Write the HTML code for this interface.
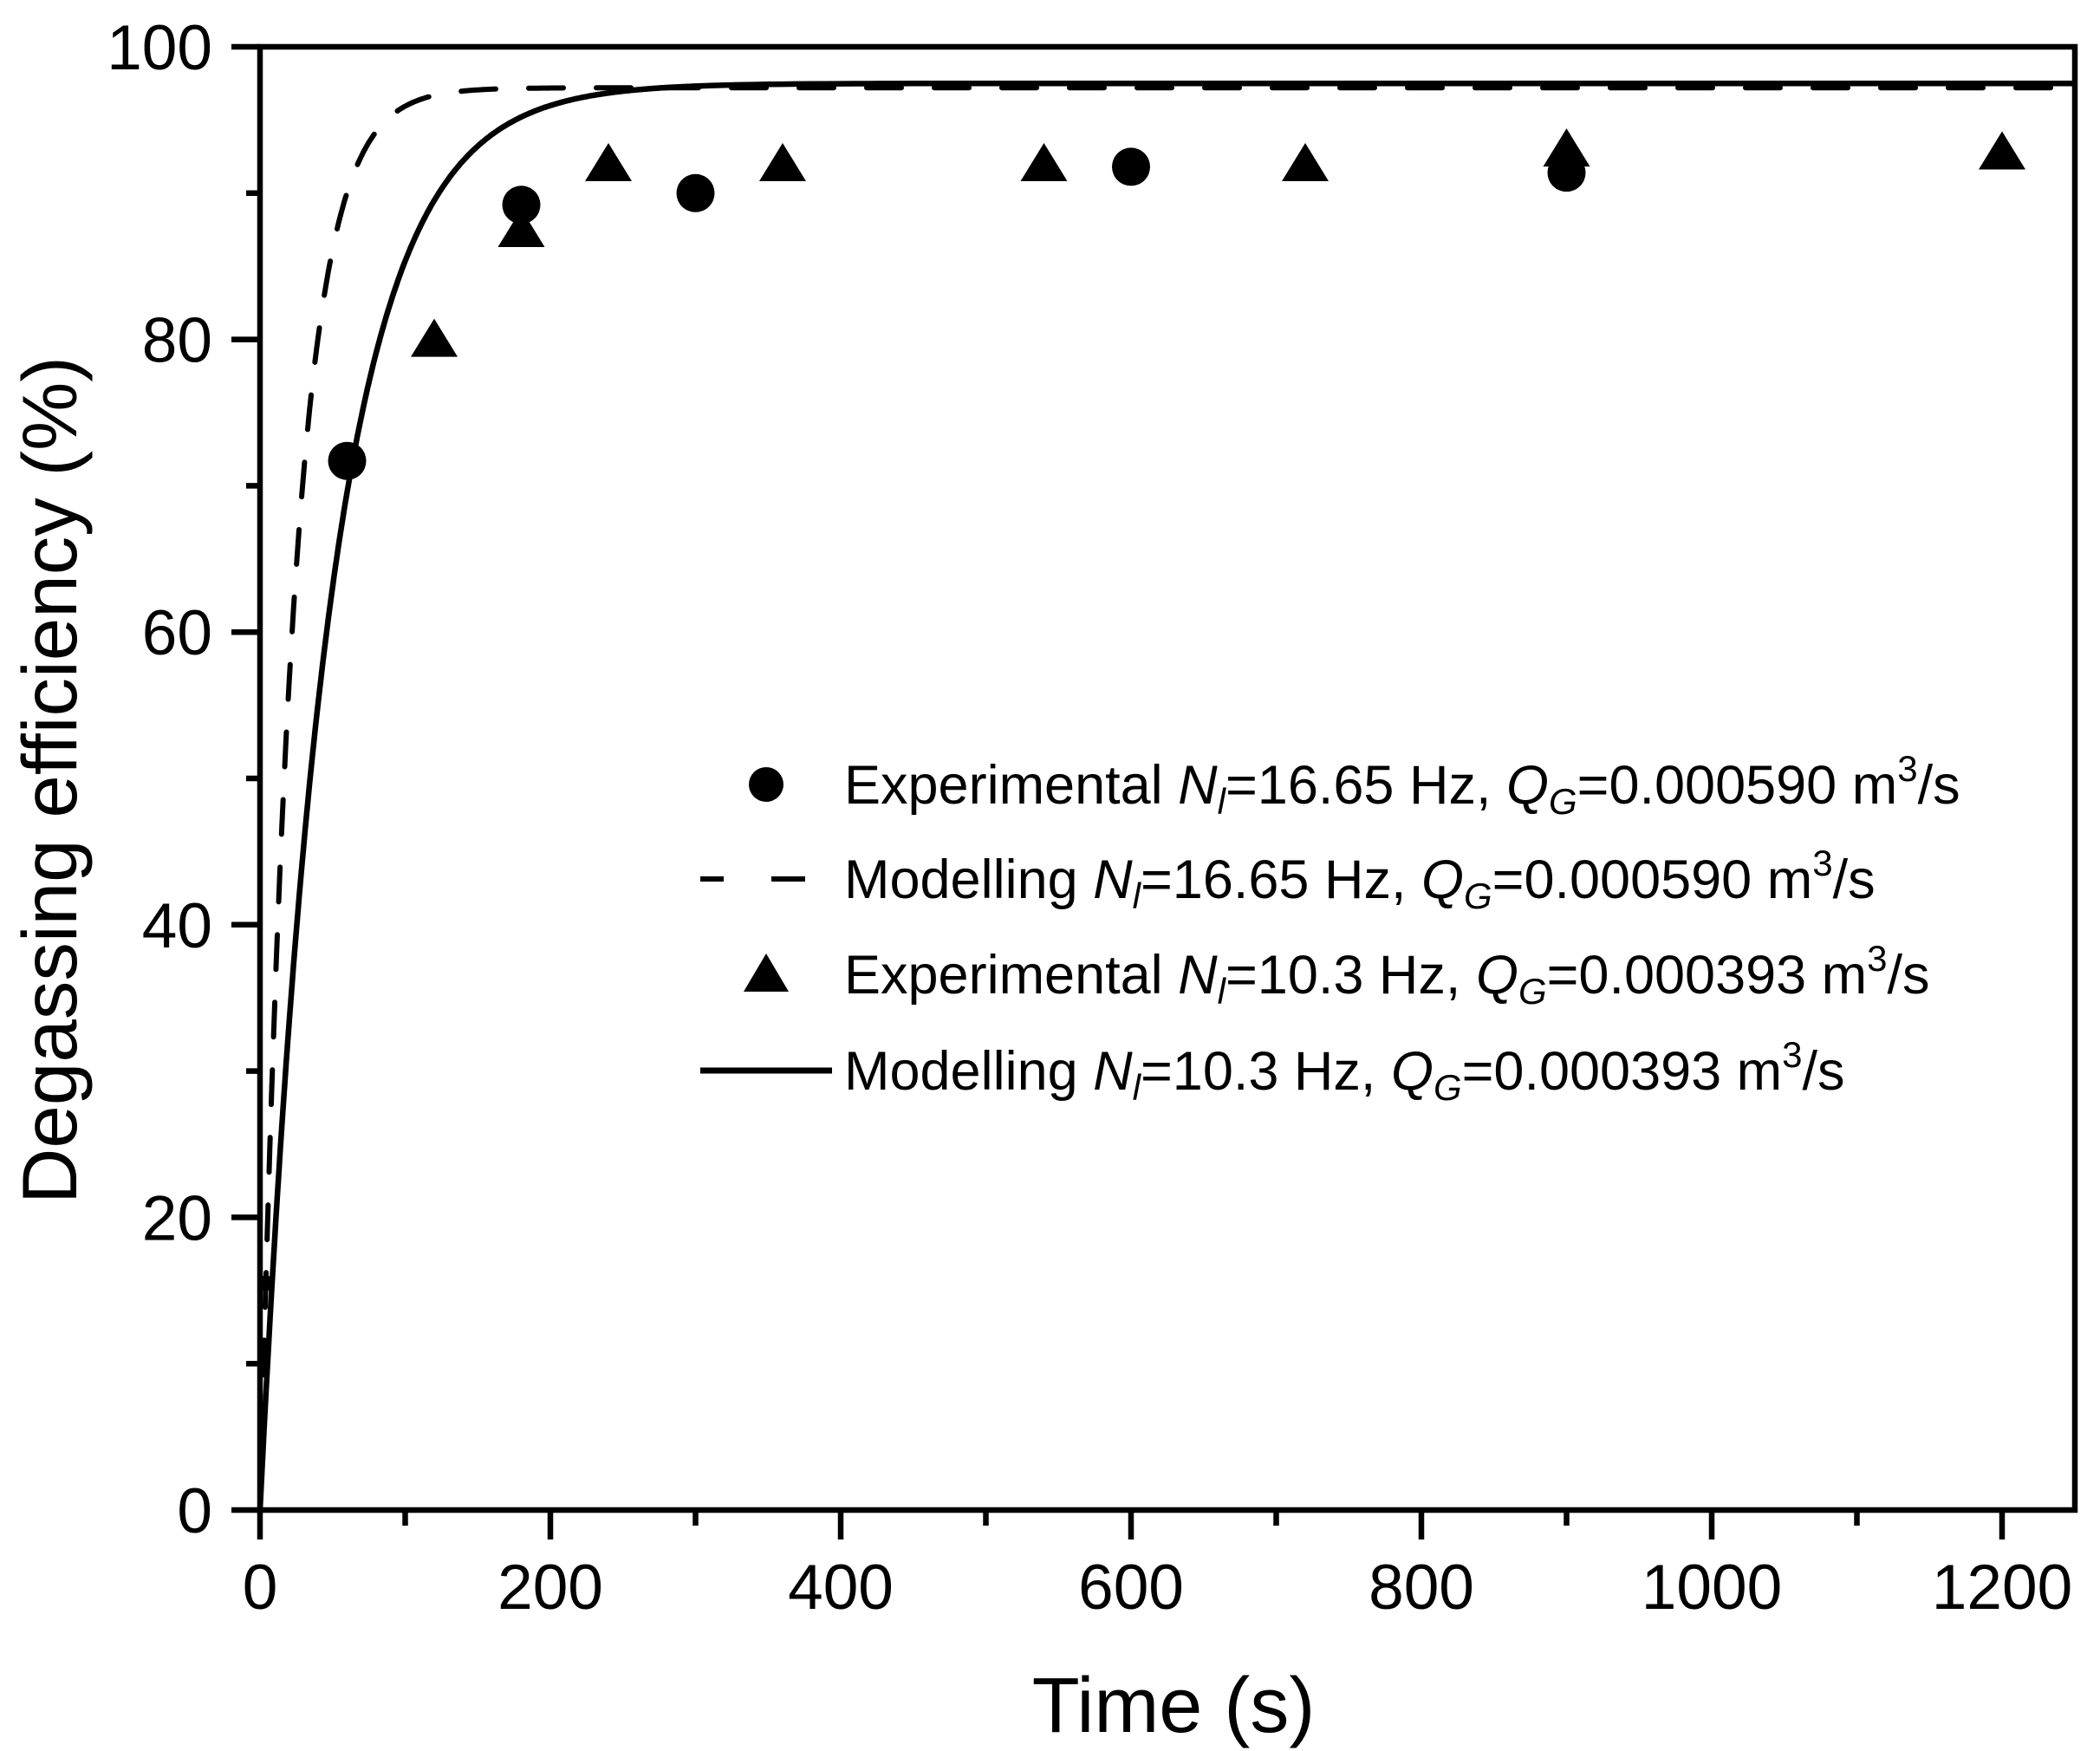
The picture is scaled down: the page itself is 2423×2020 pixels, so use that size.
<!DOCTYPE html>
<html><head><meta charset="utf-8"><style>html,body{margin:0;padding:0;background:#fff}svg{display:block}</style></head>
<body>
<svg id="s" width="2423" height="2020" viewBox="0 0 2423 2020" xmlns="http://www.w3.org/2000/svg" font-family="Liberation Sans, Arial, sans-serif">
<rect width="2423" height="2020" fill="#fff"/>
<g id="curves"></g>
<g id="marks"></g>
<g id="axes" stroke="#000" stroke-width="6.5" fill="none"></g>
<g id="labels" font-size="73" fill="#000"></g>
<text x="1354" y="1998" font-size="90" text-anchor="middle">Time (s)</text>
<text transform="translate(88,900) rotate(-90)" font-size="89" text-anchor="middle">Degassing efficiency (%)</text>
<g font-size="63" fill="#000">
<circle cx="884" cy="905" r="20"/>
<text x="974" y="927">Experimental <tspan font-style="italic">N</tspan><tspan font-style="italic" font-size="42" dy="12">l</tspan><tspan dy="-12">=16.65 Hz, </tspan><tspan font-style="italic">Q</tspan><tspan font-style="italic" font-size="42" dy="12">G</tspan><tspan dy="-12">=0.000590 m</tspan><tspan font-size="42" dy="-26">3</tspan><tspan dy="26">/s</tspan></text>
<line x1="808" y1="1014" x2="835" y2="1014" stroke="#000" stroke-width="6"/>
<line x1="890" y1="1014" x2="929" y2="1014" stroke="#000" stroke-width="6"/>
<text x="974" y="1036">Modelling <tspan font-style="italic">N</tspan><tspan font-style="italic" font-size="42" dy="12">l</tspan><tspan dy="-12">=16.65 Hz, </tspan><tspan font-style="italic">Q</tspan><tspan font-style="italic" font-size="42" dy="12">G</tspan><tspan dy="-12">=0.000590 m</tspan><tspan font-size="42" dy="-26">3</tspan><tspan dy="26">/s</tspan></text>
<polygon points="884,1100 910,1144 858,1144"/>
<text x="974" y="1146">Experimental <tspan font-style="italic">N</tspan><tspan font-style="italic" font-size="42" dy="12">l</tspan><tspan dy="-12">=10.3 Hz, </tspan><tspan font-style="italic">Q</tspan><tspan font-style="italic" font-size="42" dy="12">G</tspan><tspan dy="-12">=0.000393 m</tspan><tspan font-size="42" dy="-26">3</tspan><tspan dy="26">/s</tspan></text>
<line x1="808" y1="1235" x2="960" y2="1235" stroke="#000" stroke-width="7"/>
<text x="974" y="1257">Modelling <tspan font-style="italic">N</tspan><tspan font-style="italic" font-size="42" dy="12">l</tspan><tspan dy="-12">=10.3 Hz, </tspan><tspan font-style="italic">Q</tspan><tspan font-style="italic" font-size="42" dy="12">G</tspan><tspan dy="-12">=0.000393 m</tspan><tspan font-size="42" dy="-26">3</tspan><tspan dy="26">/s</tspan></text>
</g>
</svg>
<script>
var NS="http://www.w3.org/2000/svg";
var TOP=54,BOT=1742;
function X(t){return 300+t*1.675}
function Y(v){return BOT-v*(BOT-TOP)/100}
function el(p,n,a){var e=document.createElementNS(NS,n);for(var k in a)e.setAttribute(k,a[k]);p.appendChild(e);return e}
var cv=document.getElementById('curves');
function curve(A,tau){var d="";for(var t=0;t<=1250;t+=(t<300?1:10)){var v=A*(1-Math.exp(-t/tau));d+=(t?"L":"M")+X(t).toFixed(1)+","+Y(v).toFixed(1)}return d}
el(cv,'path',{d:curve(97.2,23),fill:'none',stroke:'#000','stroke-width':6,'stroke-dasharray':'40 38','stroke-linecap':'round'});
el(cv,'path',{d:curve(97.5,48),fill:'none',stroke:'#000','stroke-width':6.5});
var mk=document.getElementById('marks');
el(mk,'circle',{cx:X(4),cy:Y(15.5),r:9});
[[60,71.7],[180,89.2],[300,90],[600,91.8],[900,91.4]].forEach(function(p){el(mk,'circle',{cx:X(p[0]),cy:Y(p[1]),r:22})});
[[120,80],[180,87.5],[240,92],[360,92],[540,92],[720,92],[900,93],[1200,92.8]].forEach(function(p){var x=X(p[0]),y=Y(p[1]);el(mk,'polygon',{points:(x)+","+(y-24)+" "+(x+27)+","+(y+20)+" "+(x-27)+","+(y+20)})});
var ax=document.getElementById('axes');
el(ax,'rect',{x:300,y:TOP,width:2094,height:BOT-TOP});
var lb=document.getElementById('labels');
for(var t=0;t<=1200;t+=100){var maj=t%200==0;el(ax,'line',{x1:X(t),y1:BOT,x2:X(t),y2:maj?BOT+34:BOT+18});
if(maj){var tx=el(lb,'text',{x:X(t),y:1856,'text-anchor':'middle'});tx.textContent=t;}}
for(var v=0;v<=100;v+=10){var maj=v%20==0;el(ax,'line',{x1:300,y1:Y(v),x2:maj?267:284,y2:Y(v)});
if(maj){var ty=el(lb,'text',{x:245,y:Y(v)+26,'text-anchor':'end'});ty.textContent=v;}}
</script>
</body></html>
